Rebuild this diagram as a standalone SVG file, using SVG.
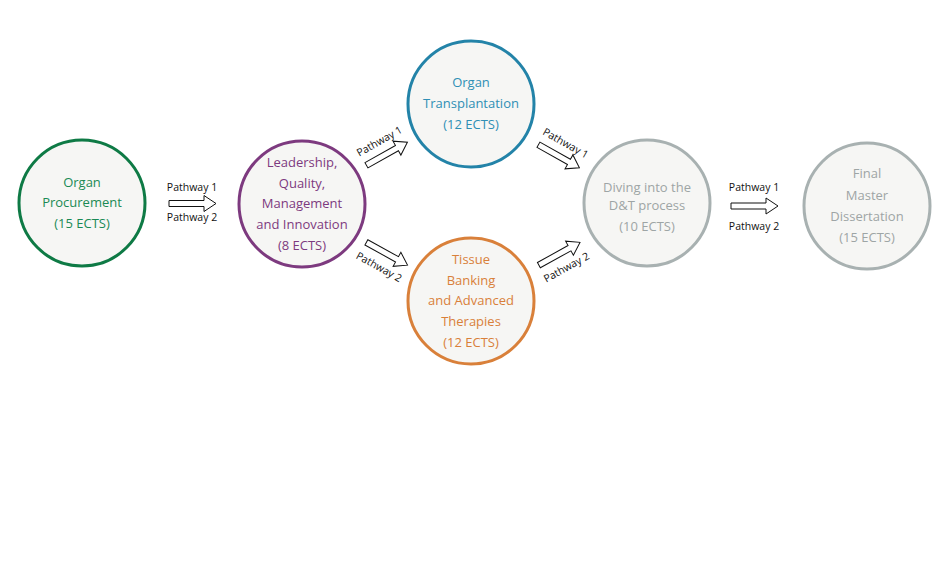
<svg xmlns="http://www.w3.org/2000/svg" width="940" height="570" viewBox="0 0 940 570">
<style>
.node{fill:#f6f6f4;stroke-width:3}
.t{font-family:"Open Sans","Liberation Sans",sans-serif;font-size:13px;text-anchor:middle}
.lab{font-family:"Open Sans","Liberation Sans",sans-serif;font-size:10.5px;text-anchor:middle;fill:#111}
.arr{fill:#fff;stroke:#111;stroke-width:1;stroke-linejoin:miter}
</style>
<defs>
<polygon id="ar" class="arr" points="-23,-3 12,-3 12,-8 24,0 12,8 12,3 -23,3"/>
</defs>
<rect width="940" height="570" fill="#fff"/>
<g id="connectors">
<g transform="translate(192,203.5)"><use href="#ar"/><text class="lab" y="-12.5">Pathway 1</text><text class="lab" y="17.5">Pathway 2</text></g>
<g transform="translate(386.5,154) rotate(-29.4)"><use href="#ar"/><text class="lab" y="-11">Pathway 1</text></g>
<g transform="translate(386.5,253.5) rotate(29)"><use href="#ar"/><text class="lab" y="19">Pathway 2</text></g>
<g transform="translate(558.5,156) rotate(29.4)"><use href="#ar"/><text class="lab" y="-11">Pathway 1</text></g>
<g transform="translate(559,254) rotate(-29)"><use href="#ar"/><text class="lab" y="19">Pathway 2</text></g>
<g transform="translate(754,206)"><use href="#ar"/><text class="lab" y="-15">Pathway 1</text><text class="lab" y="24">Pathway 2</text></g>
</g>
<g id="organ-procurement">
<circle class="node" cx="82" cy="203" r="63" stroke="#0e7a45"/>
<text class="t" fill="#1a8a55" x="82"><tspan x="82" y="187">Organ</tspan><tspan x="82" y="207">Procurement</tspan><tspan x="82" y="228">(15 ECTS)</tspan></text>
</g>
<g id="leadership">
<circle class="node" cx="302" cy="204" r="63" stroke="#7d3a7f"/>
<text class="t" fill="#7d3a7f"><tspan x="302" y="167">Leadership,</tspan><tspan x="302" y="188">Quality,</tspan><tspan x="302" y="208">Management</tspan><tspan x="302" y="229">and Innovation</tspan><tspan x="302" y="250">(8 ECTS)</tspan></text>
</g>
<g id="organ-transplantation">
<circle class="node" cx="471" cy="104" r="63" stroke="#2383a8"/>
<text class="t" fill="#2f8fb5"><tspan x="471" y="87">Organ</tspan><tspan x="471" y="108">Transplantation</tspan><tspan x="471" y="129">(12 ECTS)</tspan></text>
</g>
<g id="tissue-banking">
<circle class="node" cx="471" cy="301" r="63" stroke="#d9803a"/>
<text class="t" fill="#d9803a"><tspan x="471" y="264">Tissue</tspan><tspan x="471" y="285">Banking</tspan><tspan x="471" y="305">and Advanced</tspan><tspan x="471" y="326">Therapies</tspan><tspan x="471" y="347">(12 ECTS)</tspan></text>
</g>
<g id="diving">
<circle class="node" cx="647" cy="203" r="63" stroke="#a8b1b1"/>
<text class="t" fill="#9ea5a5"><tspan x="647" y="192">Diving into the</tspan><tspan x="647" y="210">D&amp;T process</tspan><tspan x="647" y="231">(10 ECTS)</tspan></text>
</g>
<g id="final-dissertation">
<circle class="node" cx="867" cy="206" r="63" stroke="#a8b1b1"/>
<text class="t" fill="#9ea5a5"><tspan x="867" y="178">Final</tspan><tspan x="867" y="200">Master</tspan><tspan x="867" y="221">Dissertation</tspan><tspan x="867" y="242">(15 ECTS)</tspan></text>
</g>
</svg>
